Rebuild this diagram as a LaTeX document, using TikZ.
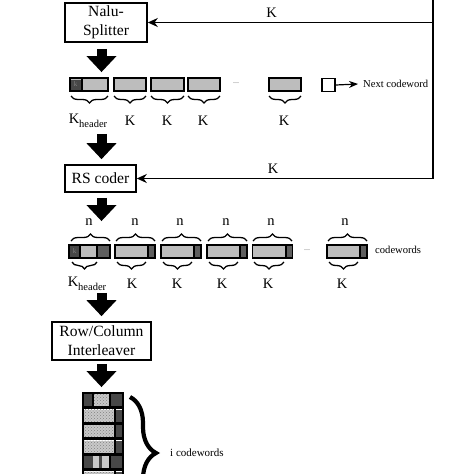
\documentclass[tikz,border=0pt]{standalone}
\usepackage{fontspec}
\setmainfont{Liberation Serif}
\usetikzlibrary{arrows.meta,decorations.pathreplacing,patterns}
\definecolor{CWLight}{HTML}{BDBDBD}
\definecolor{CWDark}{HTML}{474747}
\definecolor{CWParity}{HTML}{5E5E5E}
\definecolor{CWMesh}{HTML}{C9C9C9}

\begin{document}
\begin{tikzpicture}[x=1pt,y=-1pt,
  stage/.style={draw,line width=1.6pt,inner sep=0pt,align=center,font=\fontsize{15.6}{19}\selectfont},
  cw/.style={draw,line width=1.8pt,fill=CWLight,minimum height=13pt,inner sep=0pt},
  ilv/.style={draw,line width=1.8pt,minimum width=40pt,minimum height=14pt,inner sep=0pt},
  lbl/.style={font=\fontsize{14.5}{16}\selectfont,inner sep=1pt},
  small/.style={font=\fontsize{10.6}{12}\selectfont,inner sep=0pt},
  sep/.style={line width=1.2pt},
  upbrace/.style={decorate,decoration={brace,amplitude=7pt},line width=1.3pt},
  dnbrace/.style={decorate,decoration={brace,amplitude=7pt,mirror},line width=1.3pt},
  bigarrow/.style={line width=10pt,-{Triangle[width=29pt,length=16pt]}},
  fbarrow/.style={line width=1.5pt,-{Stealth[length=10pt,width=9pt]}}]
\path[use as bounding box] (0,0) rectangle (474,474);
\clip (0,0) rectangle (474,474);
\coordinate (spine) at (101.5,0);
\coordinate (fbtop) at (433,-10);
% stages
\node[stage,minimum width=82pt,minimum height=39pt] (nalu) at (106,22.5) {Nalu-\\Splitter};
\node[stage,minimum width=71pt,minimum height=27pt] (rs) at (100.5,178.5) {RS coder};
\node[stage,minimum width=99pt,minimum height=38pt] (il) at (101.5,341) {Row/Column\\Interleaver};
% feedback K
\draw[fbarrow] (fbtop) |- (rs.east) node[lbl,pos=0.77,above=3pt] (kfb2) {K};
\draw[fbarrow] (nalu.east -| fbtop) -- (nalu.east) node[lbl,pos=0.566,above=3pt] (kfb1) {K};
% split NALU
\node[cw,minimum width=38pt] (hdrA) at (89,84.5) {};
\fill[CWDark] (71,79.5) rectangle (82,89.5);
\node[font=\fontsize{7}{7}\selectfont,text=gray,inner sep=0pt] (kA) at (75.5,84.5) {k};
\draw[sep] (82,78) -- (82,91);
\node[cw,minimum width=32pt] (cwA2) at (130,84.5) {};
\node[cw,minimum width=33pt] (cwA3) at (167.5,84.5) {};
\node[cw,minimum width=32pt] (cwA4) at (204,84.5) {};
\node[cw,minimum width=32pt] (cwA5) at (285,84.5) {};
\node[text=gray!80!black,font=\fontsize{8}{8}\selectfont] (dotsA) at (236,83) {...};
\node[draw,line width=1.6pt,minimum size=13pt,inner sep=0pt] (nxt) at (328.5,85) {};
\node[small,anchor=west] (nxtlbl) at (363,84) {Next codeword};
\draw[line width=1.2pt,-{Stealth[length=9pt,width=7pt]}] (nxt.east) -- ([xshift=-5pt]nxtlbl.west);
\draw[dnbrace] (71,96) -- (108,96);
\draw[dnbrace] (114,96) -- (146,96);
\draw[dnbrace] (151,96) -- (184,96);
\draw[dnbrace] (188,96) -- (220,96);
\draw[dnbrace] (269,96) -- (301,96);
\node[lbl] (khA) at (88,121) {K\raisebox{-3.5pt}{\fontsize{10.5}{10}\selectfont header}};
\node[lbl] (kA2) at (130,121) {K};
\node[lbl] (kA3) at (167,121) {K};
\node[lbl] (kA4) at (203,121) {K};
\node[lbl] (kA5) at (284,121) {K};
% RS codewords
\node[cw,minimum width=41pt] (cwB1) at (89.5,251.5) {};
\fill[CWDark] (70,246) rectangle (80,257);
\fill[CWParity] (97,246) rectangle (109,257);
\node[font=\fontsize{7}{7}\selectfont,text=gray,inner sep=0pt] (kB) at (74.5,251.5) {k};
\draw[sep] (80,245) -- (80,258);
\draw[sep] (97,245) -- (97,258);
\node[cw,minimum width=40pt] (cwB2) at (135,251.5) {};
\fill[CWParity] (148,246) rectangle (154,257);
\draw[sep] (148,245) -- (148,258);
\node[cw,minimum width=40pt] (cwB3) at (181,251.5) {};
\fill[CWParity] (194,246) rectangle (200,257);
\draw[sep] (194,245) -- (194,258);
\node[cw,minimum width=40pt] (cwB4) at (227,251.5) {};
\fill[CWParity] (240,246) rectangle (246,257);
\draw[sep] (240,245) -- (240,258);
\node[cw,minimum width=40pt] (cwB5) at (272.5,251.5) {};
\fill[CWParity] (286,246) rectangle (292,257);
\draw[sep] (286,245) -- (286,258);
\node[cw,minimum width=40pt] (cwB6) at (347,251.5) {};
\fill[CWParity] (360,246) rectangle (366,257);
\draw[sep] (360,245) -- (360,258);
\node[text=gray!80!black,font=\fontsize{8}{8}\selectfont] (dotsB) at (307,250) {...};
\node[small,anchor=west] (cwlbl) at (375,250) {codewords};
\draw[upbrace] (71,241) -- (110,241);
\draw[upbrace] (116,241) -- (155,241);
\draw[upbrace] (162,241) -- (201,241);
\draw[upbrace] (208,241) -- (247,241);
\draw[upbrace] (253,241) -- (292,241);
\draw[upbrace] (328,241) -- (367,241);
\node[lbl] (nB1) at (89,222) {n};
\node[lbl] (nB2) at (135,222) {n};
\node[lbl] (nB3) at (180,222) {n};
\node[lbl] (nB4) at (226,222) {n};
\node[lbl] (nB5) at (271,222) {n};
\node[lbl] (nB6) at (345,222) {n};
\draw[dnbrace] (72,262) -- (97,262);
\draw[dnbrace] (117,262) -- (146,262);
\draw[dnbrace] (163,262) -- (192,262);
\draw[dnbrace] (209,262) -- (238,262);
\draw[dnbrace] (254,262) -- (284,262);
\draw[dnbrace] (329,262) -- (358,262);
\node[lbl] (khB) at (87,284) {K\raisebox{-3.5pt}{\fontsize{10.5}{10}\selectfont header}};
\node[lbl] (kB2) at (132,284) {K};
\node[lbl] (kB3) at (177,284) {K};
\node[lbl] (kB4) at (222,284) {K};
\node[lbl] (kB5) at (268,284) {K};
\node[lbl] (kB6) at (342,284) {K};
% interleaved block
\fill[CWDark] (84,394) rectangle (122,406);
\fill[CWMesh] (93,394) rectangle (110,406);
\fill[pattern=crosshatch dots,pattern color=gray] (93,394) rectangle (110,406);
\node[ilv] (ilvA) at (103,400) {};
\draw[sep] (93,393) -- (93,407);
\draw[sep] (110,393) -- (110,407);
\fill[CWDark] (84,409.5) rectangle (122,421.5);
\fill[CWMesh] (84,409.5) rectangle (115,421.5);
\fill[pattern=crosshatch dots,pattern color=gray] (84,409.5) rectangle (115,421.5);
\node[ilv] (ilvB) at (103,415.5) {};
\draw[sep] (115,408.5) -- (115,422.5);
\fill[CWDark] (84,425) rectangle (122,437);
\fill[CWMesh] (84,425) rectangle (115,437);
\fill[pattern=crosshatch dots,pattern color=gray] (84,425) rectangle (115,437);
\node[ilv] (ilvC) at (103,431) {};
\draw[sep] (115,424) -- (115,438);
\fill[CWDark] (84,440.5) rectangle (122,452.5);
\fill[CWMesh] (84,440.5) rectangle (115,452.5);
\fill[pattern=crosshatch dots,pattern color=gray] (84,440.5) rectangle (115,452.5);
\node[ilv] (ilvD) at (103,446.5) {};
\draw[sep] (115,439.5) -- (115,453.5);
\fill[CWDark] (84,456) rectangle (122,468);
\fill[CWMesh] (93,456) rectangle (99,468);
\fill[CWMesh] (102,456) rectangle (110,468);
\node[ilv] (ilvE) at (103,462) {};
\draw[sep] (110,455) -- (110,469);
\fill[CWDark] (84,471.5) rectangle (122,483.5);
\fill[CWMesh] (84,471.5) rectangle (115,483.5);
\fill[pattern=crosshatch dots,pattern color=gray] (84,471.5) rectangle (115,483.5);
\node[ilv] (ilvF) at (103,477.5) {};
\draw[sep] (115,470.5) -- (115,484.5);
\draw[decorate,decoration={brace,amplitude=26pt},line width=4.2pt] (130,397) -- (130,509);
\node[small,anchor=west,font=\fontsize{11}{12}\selectfont] (ilvlbl) at (170,453) {i codewords};
% flow
\draw[bigarrow,shorten <=6pt,shorten >=5pt] (nalu.south -| spine) -- (hdrA.north -| spine);
\draw[bigarrow,shorten <=5pt,shorten >=5pt] (khA.south -| spine) -- (rs.north -| spine);
\draw[bigarrow,shorten <=5pt,shorten >=23pt] (rs.south -| spine) -- (cwB1.north -| spine);
\draw[bigarrow,shorten <=1pt,shorten >=5pt] (khB.south -| spine) -- (il.north -| spine);
\draw[bigarrow,shorten <=3pt,shorten >=5pt] (il.south -| spine) -- (ilvA.north -| spine);
\end{tikzpicture}
\end{document}
